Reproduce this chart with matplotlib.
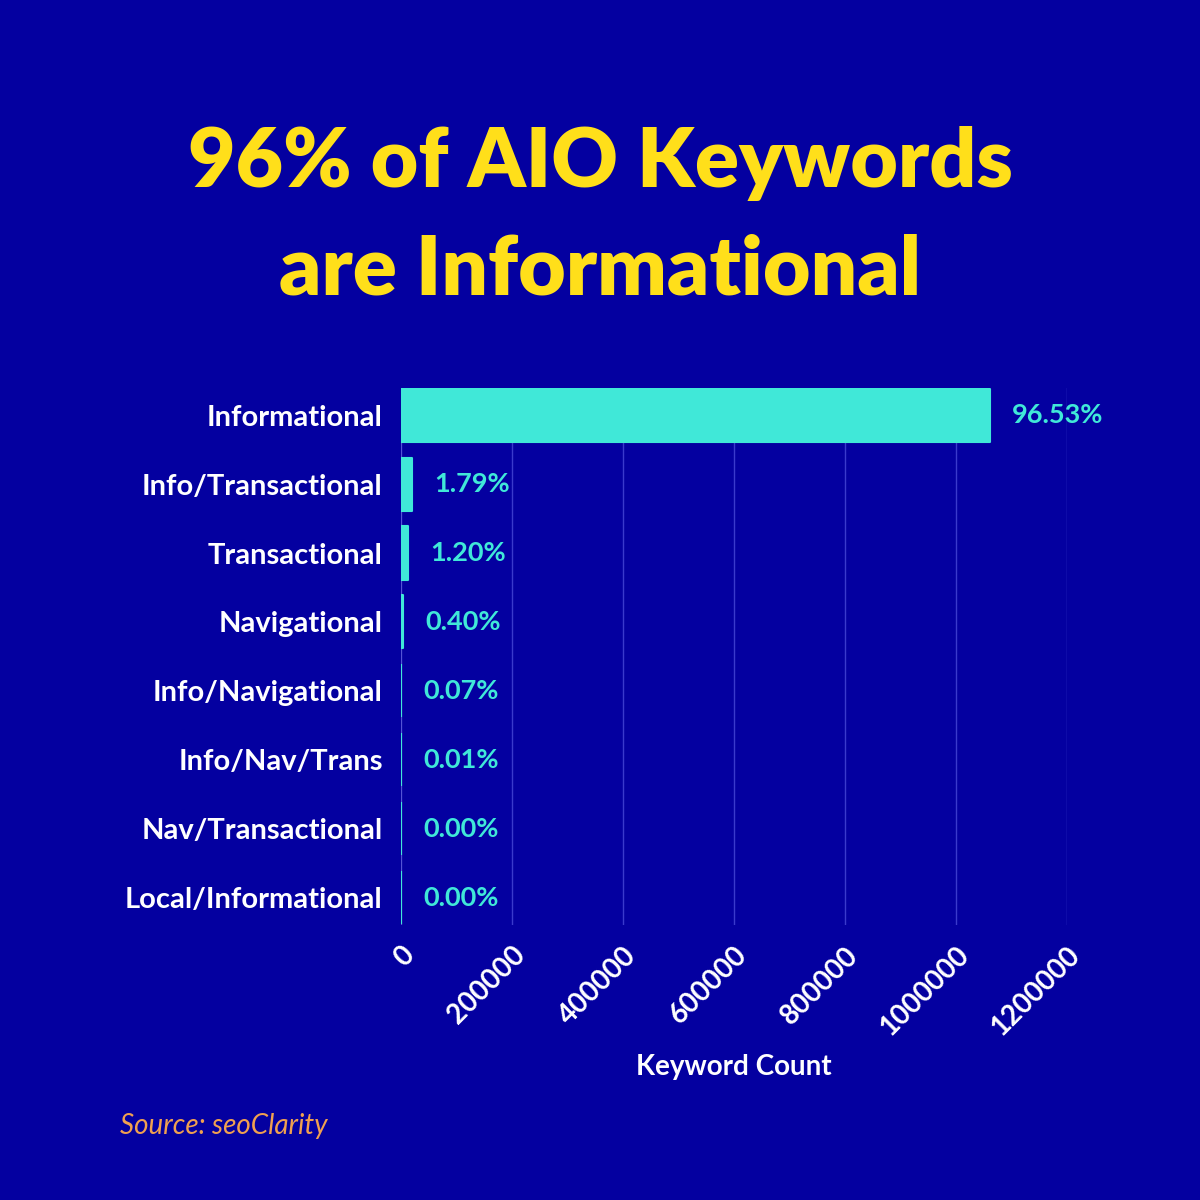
import matplotlib.pyplot as plt

# data
categories = ['Informational', 'Info/Transactional', 'Transactional', 'Navigational',
              'Info/Navigational', 'Info/Nav/Trans', 'Nav/Transactional', 'Local/Informational']
counts = [1061000, 19700, 13200, 4400, 770, 110, 30, 20]
pct_labels = ['96.53%', '1.79%', '1.20%', '0.40%', '0.07%', '0.01%', '0.00%', '0.00%']
xticks = [0, 200000, 400000, 600000, 800000, 1000000, 1200000]

BG = '#0400A0'
BAR = '#40E8D8'
TITLE = '#FFDF1A'
SRC = '#F0A050'
GRID = '#3A3ACB'

plt.rcParams['font.family'] = ['Lato', 'DejaVu Sans']

fig = plt.figure(figsize=(12, 12), dpi=100, facecolor=BG)
ax = fig.add_axes([0.334, 0.229, 0.555, 0.448], facecolor=BG)

y = list(range(len(categories)))
ax.barh(y, counts, height=0.77, color=BAR, edgecolor=BAR, linewidth=1.5,
        joinstyle='round', zorder=3)

for yi, c, lab in zip(y, counts, pct_labels):
    ax.text(c + 40000, yi, lab, color=BAR, fontsize=19.5, fontweight='bold',
            va='center', ha='left', zorder=4)

ax.set_xlim(0, 1200000)
ax.set_ylim(7.4, -0.4)
ax.set_yticks(y)
ax.set_yticklabels(categories, color='white', fontsize=21, fontweight='bold')
ax.set_xticks(xticks)
ax.set_xticklabels([str(t) for t in xticks], color='white', fontsize=20,
                   fontweight='bold', rotation=45, ha='right', rotation_mode='anchor')
ax.tick_params(axis='y', length=0, pad=13)
ax.tick_params(axis='x', length=0, pad=12)
ax.grid(axis='x', color=GRID, linewidth=1, zorder=0)
ax.axvline(0, color='#5A5AD8', linewidth=1.2, zorder=2)
for s in ax.spines.values():
    s.set_visible(False)
ax.set_xlabel('Keyword Count', color='white', fontsize=20, fontweight='bold', labelpad=10)

fig.text(0.5, 0.819, '96% of AIO Keywords\nare Informational', color=TITLE,
         fontsize=59, fontweight='heavy', ha='center', va='center', linespacing=1.52)
fig.text(0.1, 0.062, 'Source: seoClarity', color=SRC, fontsize=20, style='italic',
         ha='left', va='center')

fig.savefig('out.png', dpi=100, facecolor=BG)
